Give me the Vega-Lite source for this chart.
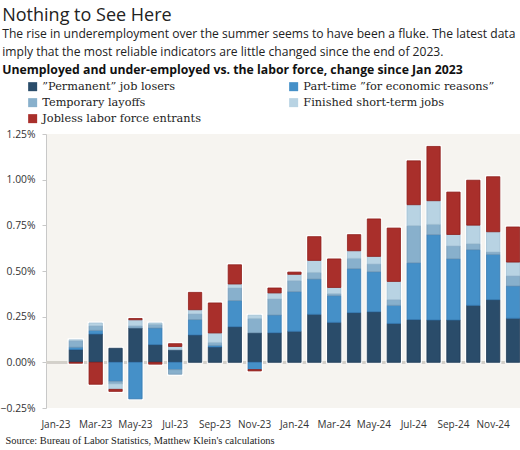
{
  "$schema": "https://vega.github.io/schema/vega-lite/v6.json",
  "background": "white",
  "padding": {"left": 0, "top": 6, "right": 0, "bottom": 2},
  "title": {
    "text": "Nothing to See Here",
    "subtitle": [
      "The rise in underemployment over the summer seems to have been a fluke. The latest data",
      "imply that the most reliable indicators are little changed since the end of 2023."
    ],
    "anchor": "start",
    "frame": "bounds",
    "dx": 2,
    "font": "Open Sans",
    "fontSize": 18,
    "fontWeight": "normal",
    "color": "#222222",
    "subtitleFont": "Open Sans",
    "subtitleFontSize": 12.1,
    "subtitleColor": "#222222",
    "subtitleLineHeight": 18,
    "subtitlePadding": 3,
    "offset": 6
  },
  "data": {
    "values": [
      {"m": "Jan-23", "perm": 0, "pt": 0, "temp": 0, "fin": 0, "entr": 0},
      {"m": "Feb-23", "perm": 0.07, "pt": 0.013, "temp": 0.035, "fin": 0.005, "entr": -0.005},
      {"m": "Mar-23", "perm": 0.155, "pt": 0.02, "temp": 0.025, "fin": 0.015, "entr": -0.12},
      {"m": "Apr-23", "perm": 0.077, "pt": -0.104, "temp": -0.014, "fin": -0.03, "entr": -0.011},
      {"m": "May-23", "perm": 0.188, "pt": -0.2, "temp": 0.012, "fin": 0.033, "entr": 0.007},
      {"m": "Jun-23", "perm": 0.097, "pt": 0.091, "temp": 0.02, "fin": 0.007, "entr": -0.01},
      {"m": "Jul-23", "perm": 0.069, "pt": -0.04, "temp": -0.025, "fin": 0.018, "entr": 0.015},
      {"m": "Aug-23", "perm": 0.15, "pt": 0.084, "temp": 0.031, "fin": 0.023, "entr": 0.095},
      {"m": "Sep-23", "perm": 0.084, "pt": 0.009, "temp": 0.016, "fin": 0.052, "entr": 0.164},
      {"m": "Oct-23", "perm": 0.195, "pt": 0.143, "temp": 0.069, "fin": 0.022, "entr": 0.105},
      {"m": "Nov-23", "perm": 0.162, "pt": -0.04, "temp": 0.078, "fin": 0.018, "entr": -0.007},
      {"m": "Dec-23", "perm": 0.162, "pt": 0.097, "temp": 0.088, "fin": 0.033, "entr": 0.027},
      {"m": "Jan-24", "perm": 0.17, "pt": 0.217, "temp": 0.06, "fin": 0.035, "entr": 0.012},
      {"m": "Feb-24", "perm": 0.263, "pt": 0.193, "temp": 0.036, "fin": 0.066, "entr": 0.13},
      {"m": "Mar-24", "perm": 0.219, "pt": 0.146, "temp": 0.011, "fin": 0.034, "entr": 0.156},
      {"m": "Apr-24", "perm": 0.272, "pt": 0.241, "temp": 0.056, "fin": 0.042, "entr": 0.088},
      {"m": "May-24", "perm": 0.277, "pt": 0.219, "temp": 0.042, "fin": 0.042, "entr": 0.205},
      {"m": "Jun-24", "perm": 0.213, "pt": 0.099, "temp": 0.031, "fin": 0.1, "entr": 0.292},
      {"m": "Jul-24", "perm": 0.234, "pt": 0.311, "temp": 0.203, "fin": 0.115, "entr": 0.24},
      {"m": "Aug-24", "perm": 0.232, "pt": 0.467, "temp": 0.056, "fin": 0.13, "entr": 0.297},
      {"m": "Sep-24", "perm": 0.232, "pt": 0.335, "temp": 0.07, "fin": 0.063, "entr": 0.232},
      {"m": "Oct-24", "perm": 0.312, "pt": 0.305, "temp": 0.032, "fin": 0.102, "entr": 0.246},
      {"m": "Nov-24", "perm": 0.343, "pt": 0.248, "temp": 0.013, "fin": 0.111, "entr": 0.301},
      {"m": "Dec-24", "perm": 0.241, "pt": 0.177, "temp": 0.055, "fin": 0.076, "entr": 0.192}
    ]
  },
  "vconcat": [
    {
      "width": 477,
      "height": 274,
      "title": {
        "text": "Unemployed and under-employed vs. the labor force, change since Jan 2023",
        "anchor": "start",
        "frame": "bounds",
        "dx": 2,
        "font": "Open Sans",
        "fontSize": 12.25,
        "fontWeight": "bold",
        "color": "#111111",
        "offset": 53
      },
      "transform": [
        {"fold": ["perm", "pt", "temp", "fin", "entr"], "as": ["series", "value"]},
        {"filter": "datum.value != 0"},
        {"calculate": "indexof(['perm','pt','temp','fin','entr'], datum.series)", "as": "k"}
      ],
      "layer": [
        {
          "mark": {"type": "rule", "color": "#d3d0ca", "strokeWidth": 2},
          "encoding": {"y": {"datum": 0, "type": "quantitative"}}
        },
        {
          "mark": {"type": "bar", "fill": "white", "stroke": "white", "strokeWidth": 3},
          "encoding": {
            "x": {
              "field": "m",
              "type": "ordinal",
              "scale": {
                "domain": ["Jan-23", "Feb-23", "Mar-23", "Apr-23", "May-23", "Jun-23", "Jul-23", "Aug-23", "Sep-23", "Oct-23", "Nov-23", "Dec-23",
                           "Jan-24", "Feb-24", "Mar-24", "Apr-24", "May-24", "Jun-24", "Jul-24", "Aug-24", "Sep-24", "Oct-24", "Nov-24", "Dec-24"],
                "paddingInner": 0.33,
                "paddingOuter": 0.165
              },
              "axis": {
                "values": ["Jan-23", "Mar-23", "May-23", "Jul-23", "Sep-23", "Nov-23", "Jan-24", "Mar-24", "May-24", "Jul-24", "Sep-24", "Nov-24"],
                "labelAngle": 0,
                "ticks": false,
                "domain": false,
                "labelPadding": 11,
                "labelFont": "Open Sans",
                "labelFontSize": 10,
                "labelColor": "#333333",
                "title": "Source: Bureau of Labor Statistics, Matthew Klein's calculations",
                "titleX": -41,
                "titleY": 35,
                "titleAlign": "left",
                "titleBaseline": "alphabetic",
                "titleFont": "Liberation Serif",
                "titleFontSize": 10.4,
                "titleFontWeight": "normal",
                "titleColor": "#222222"
              }
            },
            "y": {
              "field": "value",
              "type": "quantitative",
              "stack": "zero",
              "scale": {"domain": [-0.25, 1.25], "nice": false},
              "axis": {
                "values": [-0.25, 0, 0.25, 0.5, 0.75, 1, 1.25],
                "labelExpr": "format(datum.value, '.2f') + '%'",
                "grid": false,
                "domainColor": "#c8c8c8",
                "tickColor": "#c8c8c8",
                "tickSize": 4,
                "labelPadding": 7,
                "labelFont": "Open Sans",
                "labelFontSize": 10.3,
                "labelColor": "#333333",
                "title": null
              }
            },
            "order": {"field": "k", "type": "quantitative"},
            "detail": {"field": "series", "type": "nominal"}
          }
        },
        {
          "mark": {"type": "bar", "strokeWidth": 0.8},
          "encoding": {
            "x": {"field": "m", "type": "ordinal"},
            "y": {"field": "value", "type": "quantitative", "stack": "zero"},
            "order": {"field": "k", "type": "quantitative"},
            "color": {
              "field": "series",
              "type": "nominal",
              "scale": {
                "domain": ["perm", "pt", "temp", "fin", "entr"],
                "range": ["#2a4c6a", "#4590c8", "#88b0cc", "#b8d3e3", "#a92f2b"]
              },
              "legend": {
                "orient": "none",
                "legendX": -19,
                "legendY": -53,
                "direction": "horizontal",
                "columns": 2,
                "columnPadding": 87,
                "rowPadding": 4,
                "padding": 0,
                "title": null,
                "symbolType": "square",
                "symbolSize": 81,
                "symbolStrokeWidth": 0,
                "labelFont": "DejaVu Serif",
                "labelFontSize": 11.3,
                "labelLimit": 400,
                "labelColor": "#222222",
                "labelOffset": 4,
                "labelExpr": "{'perm': '\u201dPermanent\u201d job losers', 'pt': 'Part-time \u201dfor economic reasons\u201d', 'temp': 'Temporary layoffs', 'fin': 'Finished short-term jobs', 'entr': 'Jobless labor force entrants'}[datum.value]"
              }
            },
            "stroke": {
              "field": "series",
              "type": "nominal",
              "scale": {
                "domain": ["perm", "pt", "temp", "fin", "entr"],
                "range": ["#1e3a55", "#3479b2", "#7399b6", "#9fbfd3", "#8e1c18"]
              },
              "legend": null
            }
          }
        }
      ]
    }
  ],
  "config": {
    "view": {"stroke": null, "fill": "#f6f4f0"},
    "concat": {"spacing": 0}
  }
}
